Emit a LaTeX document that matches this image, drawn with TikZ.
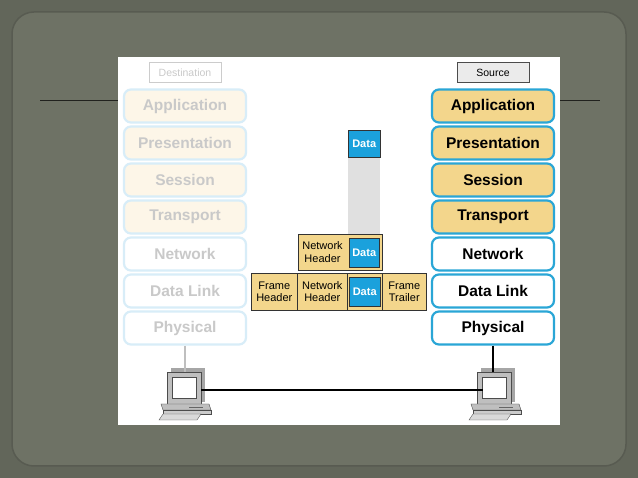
\documentclass[tikz,border=0pt]{standalone}
\usepackage{fontspec}
\setmainfont{Liberation Sans}
\begin{document}
\begin{tikzpicture}[x=1pt,y=-1pt,
  layer/.style={draw=lblue,line width=2.2pt,rounded corners=7pt,minimum width=122pt,minimum height=33pt,font=\bfseries\fontsize{15.5}{15.5}\selectfont,inner sep=0pt},
  flayer/.style={layer,draw=fblue,text=ftext},
  pdu/.style={draw=black!80,fill=tan,line width=0.6pt,inner sep=0pt,font=\fontsize{11}{12.5}\selectfont,align=center,anchor=north west},
  datab/.style={draw=black!80,fill=dblue,text=white,inner sep=0pt,font=\bfseries\fontsize{11}{11}\selectfont,anchor=north west},
  lbl/.style={draw=black!70,fill=black!8,line width=0.6pt,inner sep=0pt,minimum width=72pt,minimum height=20pt,font=\fontsize{10.5}{10.5}\selectfont}]
\definecolor{bg}{HTML}{62665A}
\definecolor{panel}{HTML}{6E7265}
\definecolor{tan}{HTML}{F3D68C}
\definecolor{lblue}{HTML}{2AA6D6}
\definecolor{fblue}{HTML}{D8EDF8}
\definecolor{ftan}{HTML}{FDF6E8}
\definecolor{ftext}{HTML}{C9C9C9}
\definecolor{dblue}{HTML}{1BA1DC}
\useasboundingbox (0,0) rectangle (638,478);
\fill[bg] (0,0) rectangle (638,478);
\draw[panel!80!black,fill=panel,line width=1.5pt,rounded corners=22pt] (12,12) rectangle (626,466);
\draw[black!70!panel,line width=0.8pt] (40,100) -- (118,100);
\draw[black!70!panel,line width=0.8pt] (560,100) -- (600,100);
\fill[white] (118,57) rectangle (560,425);
% labels
\node[lbl,draw=black!20,fill=white,text=ftext] (dst) at (185,72.5) {Destination};
\node[lbl] (src) at (493,72.5) {Source};
% stacks
\foreach \n/\t/\y/\f in {app/Application/106/1,pre/Presentation/143/1,ses/Session/180/1,tra/Transport/217/1,net/Network/254/0,dl/Data Link/291/0,phy/Physical/328/0}{
  \ifnum\f=1
    \node[layer,fill=tan] (r\n) at (493,\y) {\t};
    \node[flayer,fill=ftan] (l\n) at (185,\y) {\t};
  \else
    \node[layer,fill=white] (r\n) at (493,\y) {\t};
    \node[flayer,fill=white] (l\n) at (185,\y) {\t};
  \fi
}
% PDUs
\fill[black!12] (348,157) rectangle (380,236);
\node[datab,minimum width=32pt,minimum height=27pt] (d1) at (348,130) {Data};
\node[pdu,minimum width=84pt,minimum height=36pt] (nh) at (298,234) {};
\node[pdu,draw=none,fill=none,anchor=center] (nht) at (322.5,252) {Network\\Header};
\node[datab,minimum width=30pt,minimum height=29pt] (d2) at (349,238) {Data};
\node[pdu,minimum width=46pt,minimum height=37pt] (fh) at (251,273) {Frame\\Header};
\node[pdu,minimum width=50pt,minimum height=37pt] (nh2) at (297,273) {Network\\Header};
\node[pdu,minimum width=35pt,minimum height=37pt] (dbg) at (347,273) {};
\node[datab,minimum width=31pt,minimum height=29pt] (d3) at (349,277) {Data};
\node[pdu,minimum width=44pt,minimum height=37pt] (ft) at (382,273) {Frame\\Trailer};
% computers
\foreach \c/\x in {lc/187,rc/497}{
  \begin{scope}[shift={(\x,0)}]
    \fill[black!35] (-16,368) rectangle (18,402);
    \draw[black!70,fill=black!25] (-20,372) rectangle (14,404);
    \draw[black!70,fill=white] (-15,377) rectangle (9,398);
    \draw[black!70,fill=black!25] (-26,404) -- (22,404) -- (24,410) -- (-24,410) -- cycle;
    \draw[black!70,fill=black!20] (-24,410) rectangle (24,414);
    \draw[black!60] (2,407) -- (16,407);
    \draw[black!70,fill=black!15] (-24,414) -- (14,414) -- (10,420) -- (-28,420) -- cycle;
    \coordinate (\c) at (0,372);
  \end{scope}
}
\coordinate (lcx) at (201,390);
\coordinate (rcx) at (483,390);
\draw[black!25,line width=2.5pt] (lphy.south) -- (lphy.south |- lc);
\draw[black,line width=2.5pt] (rphy.south) -- (rphy.south |- rc);
\draw[black,line width=2.5pt] (lcx) -- (rcx);
\end{tikzpicture}
\end{document}
